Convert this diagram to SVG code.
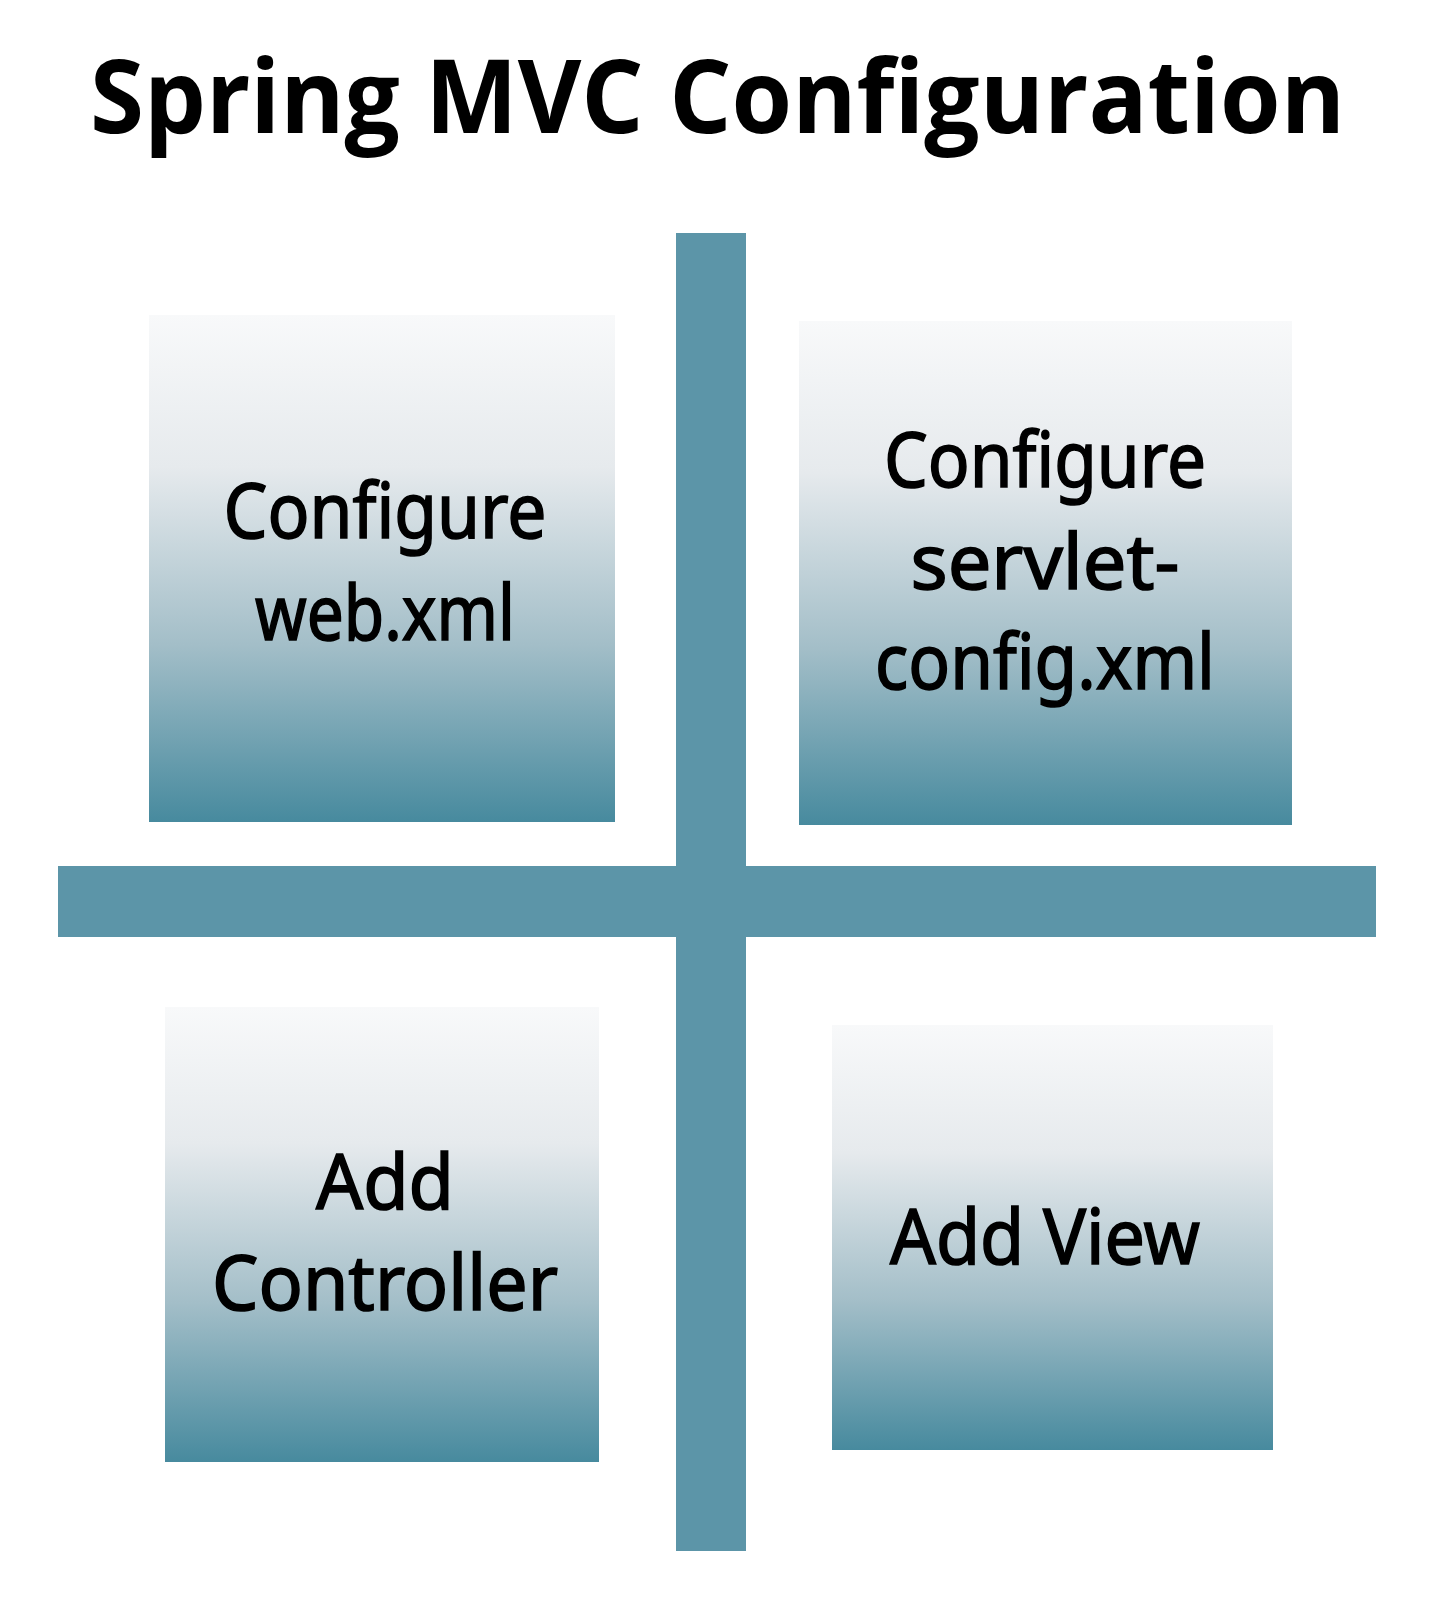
<svg xmlns="http://www.w3.org/2000/svg" width="1437" height="1600" viewBox="0 0 1437 1600">
  <defs>
    <linearGradient id="boxGrad" x1="0" y1="0" x2="0" y2="1">
      <stop offset="0" stop-color="#f8f9fa"/>
      <stop offset="0.3" stop-color="#e6eaed"/>
      <stop offset="0.65" stop-color="#a3bec8"/>
      <stop offset="1" stop-color="#478a9e"/>
    </linearGradient>
    <style>
      .bar { fill: #5c95a8; }
      .box { fill: url(#boxGrad); }
      .lbl { font-family: "Comic Sans MS", "Noto Sans", "DejaVu Sans", sans-serif; font-size: 76px; fill: #000; text-anchor: middle; stroke: #000; stroke-width: 1.6; }
      .title { font-family: "Open Sans", "Liberation Sans", sans-serif; font-weight: bold; font-size: 102px; fill: #000; }
    </style>
  </defs>
  <rect width="1437" height="1600" fill="#ffffff"/>
  <text class="title" x="90" y="133" textLength="1255" lengthAdjust="spacingAndGlyphs">Spring MVC Configuration</text>
  <g id="connectors">
    <rect class="bar" x="676" y="233" width="70" height="1318"/>
    <rect class="bar" x="58" y="866" width="1318" height="71"/>
  </g>
  <g id="node-webxml">
    <rect class="box" x="149" y="315" width="466" height="507"/>
    <text class="lbl" x="385" y="538" textLength="323" lengthAdjust="spacingAndGlyphs">Configure</text>
    <text class="lbl" x="385" y="640" textLength="260" lengthAdjust="spacingAndGlyphs">web.xml</text>
  </g>
  <g id="node-servlet">
    <rect class="box" x="799" y="321" width="493" height="504"/>
    <text class="lbl" x="1045" y="487" textLength="322" lengthAdjust="spacingAndGlyphs">Configure</text>
    <text class="lbl" x="1045" y="589" textLength="269" lengthAdjust="spacingAndGlyphs">servlet-</text>
    <text class="lbl" x="1045" y="689" textLength="340" lengthAdjust="spacingAndGlyphs">config.xml</text>
  </g>
  <g id="node-controller">
    <rect class="box" x="165" y="1007" width="434" height="455"/>
    <text class="lbl" x="385" y="1209" textLength="138" lengthAdjust="spacingAndGlyphs">Add</text>
    <text class="lbl" x="385" y="1310" textLength="346" lengthAdjust="spacingAndGlyphs">Controller</text>
  </g>
  <g id="node-view">
    <rect class="box" x="832" y="1025" width="441" height="425"/>
    <text class="lbl" x="1045" y="1264" textLength="310" lengthAdjust="spacingAndGlyphs">Add View</text>
  </g>
</svg>
